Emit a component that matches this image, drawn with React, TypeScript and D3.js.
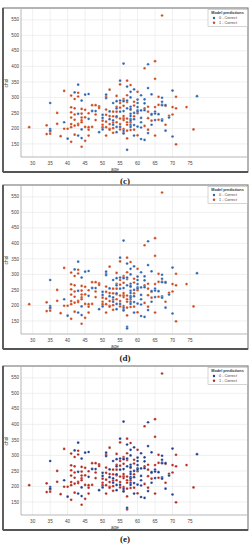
import React from "react";
import * as d3 from "d3";

// [age, chol]
const correct0: number[][] = [
  [35, 282], [35, 198], [35, 193], [39, 220], [40, 167], [42, 316], [43, 341], [43, 247], [43, 177],
  [44, 290], [44, 197], [44, 169], [45, 309], [46, 311], [46, 231], [47, 256], [48, 256], [49, 188],
  [50, 244], [50, 234], [50, 197], [51, 309], [51, 298], [52, 255], [52, 230], [53, 282], [53, 212],
  [54, 288], [54, 265], [54, 239], [54, 205], [54, 188], [55, 354], [55, 290], [55, 254], [55, 205],
  [56, 409], [56, 288], [56, 256], [56, 192], [56, 184], [57, 335], [57, 265], [57, 131], [58, 318],
  [58, 300], [58, 270], [58, 262], [58, 247], [58, 240], [58, 230], [58, 225], [58, 211], [58, 205],
  [59, 326], [59, 230], [59, 211], [59, 177], [60, 293], [60, 282], [60, 258], [60, 254], [60, 206],
  [61, 307], [61, 258], [61, 234], [61, 203], [61, 166], [62, 294], [62, 281], [62, 259], [62, 163],
  [63, 407], [63, 330], [63, 185], [64, 310], [64, 246], [64, 212], [65, 254], [65, 248], [65, 227],
  [67, 299], [67, 286], [67, 275], [67, 229], [67, 225], [68, 275], [68, 193], [69, 235], [70, 322],
  [70, 174], [77, 304], [57, 290], [59, 250], [61, 220], [66, 246], [53, 226], [60, 269],
];

const correct1: number[][] = [
  [29, 204], [34, 210], [34, 182], [35, 183], [35, 190], [37, 250], [37, 215], [38, 175], [39, 321],
  [39, 199], [40, 199], [41, 306], [41, 268], [41, 252], [41, 235], [41, 214], [41, 204], [41, 157],
  [42, 295], [42, 265], [42, 245], [42, 228], [42, 209], [42, 180], [43, 315], [43, 303], [43, 215],
  [43, 211], [44, 263], [44, 248], [44, 235], [44, 226], [44, 220], [44, 141], [45, 260], [45, 236],
  [45, 205], [45, 160], [46, 249], [46, 204], [46, 196], [46, 177], [47, 275], [47, 257], [47, 205],
  [48, 275], [48, 227], [49, 271], [49, 266], [50, 212], [50, 204], [51, 302], [51, 261], [51, 244],
  [51, 222], [51, 204], [51, 177], [52, 325], [52, 240], [52, 214], [52, 199], [52, 196], [53, 254],
  [53, 239], [53, 218], [53, 201], [53, 186], [54, 305], [54, 270], [54, 254], [54, 220], [55, 342],
  [55, 282], [55, 267], [55, 232], [55, 214], [55, 197], [56, 295], [56, 290], [56, 273], [56, 233],
  [56, 227], [56, 198], [56, 185], [57, 354], [57, 307], [57, 285], [57, 232], [57, 220], [57, 212],
  [57, 193], [57, 168], [58, 340], [58, 219], [58, 195], [59, 286], [59, 274], [59, 239], [59, 196],
  [60, 318], [60, 249], [60, 178], [62, 394], [62, 265], [62, 208], [63, 270], [63, 254], [63, 233],
  [63, 196], [64, 244], [64, 225], [65, 417], [65, 360], [65, 269], [65, 177], [66, 302], [66, 276],
  [66, 228], [67, 564], [67, 277], [68, 273], [68, 212], [69, 241], [70, 269], [70, 245], [71, 302],
  [71, 265], [71, 149], [74, 269], [76, 197], [48, 245], [50, 225], [54, 236], [56, 240], [58, 260],
];

// small differences between the panels
const extraD: number[][] = [[57, 126]];
const extraE: number[][] = [[57, 126]];

const xTicks = [30, 35, 40, 45, 50, 55, 60, 65, 70, 75];
const yTicks = [150, 200, 250, 300, 350, 400, 450, 500, 550];
const legendLabels = ["0 - Correct", "1 - Correct"];

const panels = [
  { caption: "(c)", top: 8, c0: "#2b64ae", c1: "#cc481e", extra0: [], extra1: [] },
  { caption: "(d)", top: 185, c0: "#2b64ae", c1: "#cc481e", extra0: extraD, extra1: [] },
  { caption: "(e)", top: 366, c0: "#1d3b8e", c1: "#b3281f", extra0: [], extra1: extraE },
];

const Panel = ({ p }: { p: any }) => {
  const t = p.top;
  const x = d3.scaleLinear().domain([26.66, 91.3]).range([21, 247]);
  const y = d3.scaleLinear().domain([108, 585]).range([t + 149, t + 1]);
  const pts0 = correct0.concat(p.extra0);
  const pts1 = correct1.concat(p.extra1);
  const font = "Liberation Sans, Arial, sans-serif";
  return (
    <g>
      {/* frame */}
      <rect x={3} y={t} width={245} height={164} fill="#fff" stroke="#777" strokeWidth={1.1} />
      <line x1={3} x2={3} y1={t} y2={t + 164} stroke="#555" strokeWidth={1.8} />
      <line x1={3} x2={248} y1={t + 164} y2={t + 164} stroke="#555" strokeWidth={1.8} />

      {/* grid */}
      {xTicks.map((v) => (
        <line key={"gx" + v} x1={x(v)} x2={x(v)} y1={y.range()[1]} y2={y.range()[0]} stroke="#e6e6e6" strokeWidth={0.6} />
      ))}
      {yTicks.map((v) => (
        <line key={"gy" + v} x1={21} x2={247} y1={y(v)} y2={y(v)} stroke="#e6e6e6" strokeWidth={0.6} />
      ))}

      {/* axes */}
      <line x1={21} x2={21} y1={t + 1} y2={t + 149} stroke="#999" strokeWidth={0.7} />
      <line x1={21} x2={247} y1={t + 149} y2={t + 149} stroke="#999" strokeWidth={0.7} />
      {xTicks.map((v) => (
        <text key={"tx" + v} x={x(v)} y={t + 157} fontSize={4.6} fill="#444" textAnchor="middle" fontFamily={font}>
          {v}
        </text>
      ))}
      {yTicks.map((v) => (
        <text key={"ty" + v} x={19} y={y(v) + 1.6} fontSize={4.6} fill="#444" textAnchor="end" fontFamily={font}>
          {v}
        </text>
      ))}
      <text x={115} y={t + 162.5} fontSize={4.8} fill="#444" textAnchor="middle" fontFamily={font}>age</text>
      <text transform={`translate(7.5,${t + 75}) rotate(-90)`} fontSize={4.8} fill="#444" textAnchor="middle" fontFamily={font}>
        chol
      </text>

      {/* points */}
      {pts1.map((d, i) => (
        <circle key={"r" + i} cx={x(d[0])} cy={y(d[1])} r={1.35} fill={p.c1} stroke="#fff" strokeWidth={0.25} />
      ))}
      {pts0.map((d, i) => (
        <circle key={"b" + i} cx={x(d[0])} cy={y(d[1])} r={1.35} fill={p.c0} stroke="#fff" strokeWidth={0.25} />
      ))}

      {/* legend */}
      <rect x={208} y={t + 1.5} width={39.5} height={17} fill="#fff" stroke="#aaa" strokeWidth={0.5} />
      <text x={227.5} y={t + 6} fontSize={3.8} fontWeight="bold" fill="#333" textAnchor="middle" fontFamily={font}>
        Model predictions
      </text>
      {legendLabels.map((l, i) => (
        <g key={l}>
          <circle cx={214} cy={t + 10 + i * 4.8} r={1.2} fill={i === 0 ? p.c0 : p.c1} />
          <text x={219} y={t + 11.4 + i * 4.8} fontSize={3.8} fill="#444" fontFamily={font}>
            {l}
          </text>
        </g>
      ))}

      {/* caption */}
      <text x={125} y={t + 176} fontSize={9} fontWeight="bold" fill="#222" textAnchor="middle" fontFamily="Liberation Serif, Times New Roman, serif">
        {p.caption}
      </text>
    </g>
  );
};

export default function App() {
  return (
    <div style={{ position: "absolute", left: 0, top: 0 }}>
      <svg width={252} height={550} style={{ display: "block" }}>
        <rect width={252} height={550} fill="#fff" />
        {panels.map((p) => (
          <Panel key={p.caption} p={p} />
        ))}
      </svg>
    </div>
  );
}
